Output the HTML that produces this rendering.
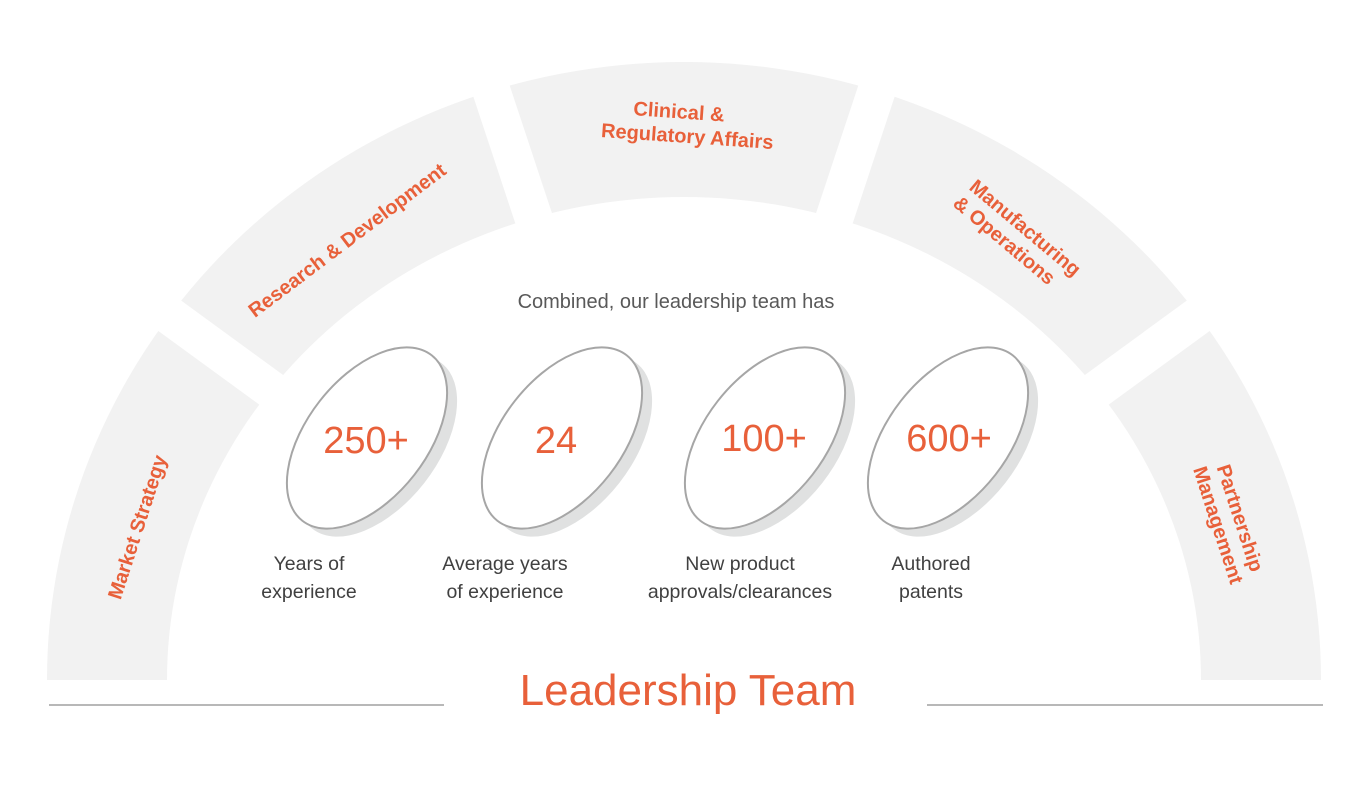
<!DOCTYPE html>
<html><head><meta charset="utf-8"><style>
html,body{margin:0;padding:0;background:#fff;}
svg{display:block;font-family:"Liberation Sans",sans-serif;}
.seg{font-weight:bold;font-size:20px;fill:#E8603A;}
.num{font-size:38px;fill:#E8603A;text-anchor:middle;}
.lbl{font-size:19.5px;fill:#404040;text-anchor:middle;}
</style></head><body>
<svg width="1363" height="792" viewBox="0 0 1363 792">
<path d="M47,680 A637,618 0 0 1 1321,680 L1201,680 A517,483 0 0 0 167,680 Z" fill="#F2F2F2"/>
<g stroke="#fff" stroke-width="38">
<line x1="377" y1="467" x2="118" y2="278"/>
<line x1="567" y1="319" x2="466" y2="14"/>
<line x1="801" y1="319" x2="902" y2="14"/>
<line x1="991" y1="467" x2="1250" y2="278"/>
</g>
<text class="seg" transform="translate(137,527) rotate(-72)" text-anchor="middle" dy="7">Market Strategy</text>
<text class="seg" transform="translate(347,240) rotate(-37)" text-anchor="middle" dy="7">Research &amp; Development</text>
<g transform="translate(688,126) rotate(4)">
<text class="seg" x="-10" y="-7" text-anchor="middle">Clinical &amp;</text>
<text class="seg" x="0" y="17" text-anchor="middle">Regulatory Affairs</text>
</g>
<g transform="translate(1014,235) rotate(40)">
<text class="seg" x="4" y="-6" text-anchor="middle">Manufacturing</text>
<text class="seg" x="-4" y="17" text-anchor="middle">&amp; Operations</text>
</g>
<g transform="translate(1228,522) rotate(72)">
<text class="seg" x="0" y="-6" text-anchor="middle">Partnership</text>
<text class="seg" x="0" y="17" text-anchor="middle">Management</text>
</g>
<text x="676" y="308" font-size="20" fill="#595959" text-anchor="middle">Combined, our leadership team has</text>
<g>
<ellipse cx="377" cy="446" rx="60" ry="105" transform="rotate(38 377 446)" fill="#E0E1E1"/>
<ellipse cx="367" cy="438" rx="60" ry="105" transform="rotate(38 367 438)" fill="#fff" stroke="#A6A6A6" stroke-width="2"/>
<ellipse cx="572" cy="446" rx="60" ry="105" transform="rotate(38 572 446)" fill="#E0E1E1"/>
<ellipse cx="562" cy="438" rx="60" ry="105" transform="rotate(38 562 438)" fill="#fff" stroke="#A6A6A6" stroke-width="2"/>
<ellipse cx="775" cy="446" rx="60" ry="105" transform="rotate(38 775 446)" fill="#E0E1E1"/>
<ellipse cx="765" cy="438" rx="60" ry="105" transform="rotate(38 765 438)" fill="#fff" stroke="#A6A6A6" stroke-width="2"/>
<ellipse cx="958" cy="446" rx="60" ry="105" transform="rotate(38 958 446)" fill="#E0E1E1"/>
<ellipse cx="948" cy="438" rx="60" ry="105" transform="rotate(38 948 438)" fill="#fff" stroke="#A6A6A6" stroke-width="2"/>
</g>
<text class="num" x="366" y="453">250+</text>
<text class="num" x="556" y="453">24</text>
<text class="num" x="764" y="451">100+</text>
<text class="num" x="949" y="451">600+</text>
<text class="lbl" x="309" y="570">Years of</text>
<text class="lbl" x="309" y="598">experience</text>
<text class="lbl" x="505" y="570">Average years</text>
<text class="lbl" x="505" y="598">of experience</text>
<text class="lbl" x="740" y="570">New product</text>
<text class="lbl" x="740" y="598">approvals/clearances</text>
<text class="lbl" x="931" y="570">Authored</text>
<text class="lbl" x="931" y="598">patents</text>
<text x="688" y="705" font-size="44" fill="#E8603A" text-anchor="middle">Leadership Team</text>
<line x1="49" y1="705" x2="444" y2="705" stroke="#A0A0A0" stroke-width="1.5"/>
<line x1="927" y1="705" x2="1323" y2="705" stroke="#A0A0A0" stroke-width="1.5"/>
</svg>
</body></html>
